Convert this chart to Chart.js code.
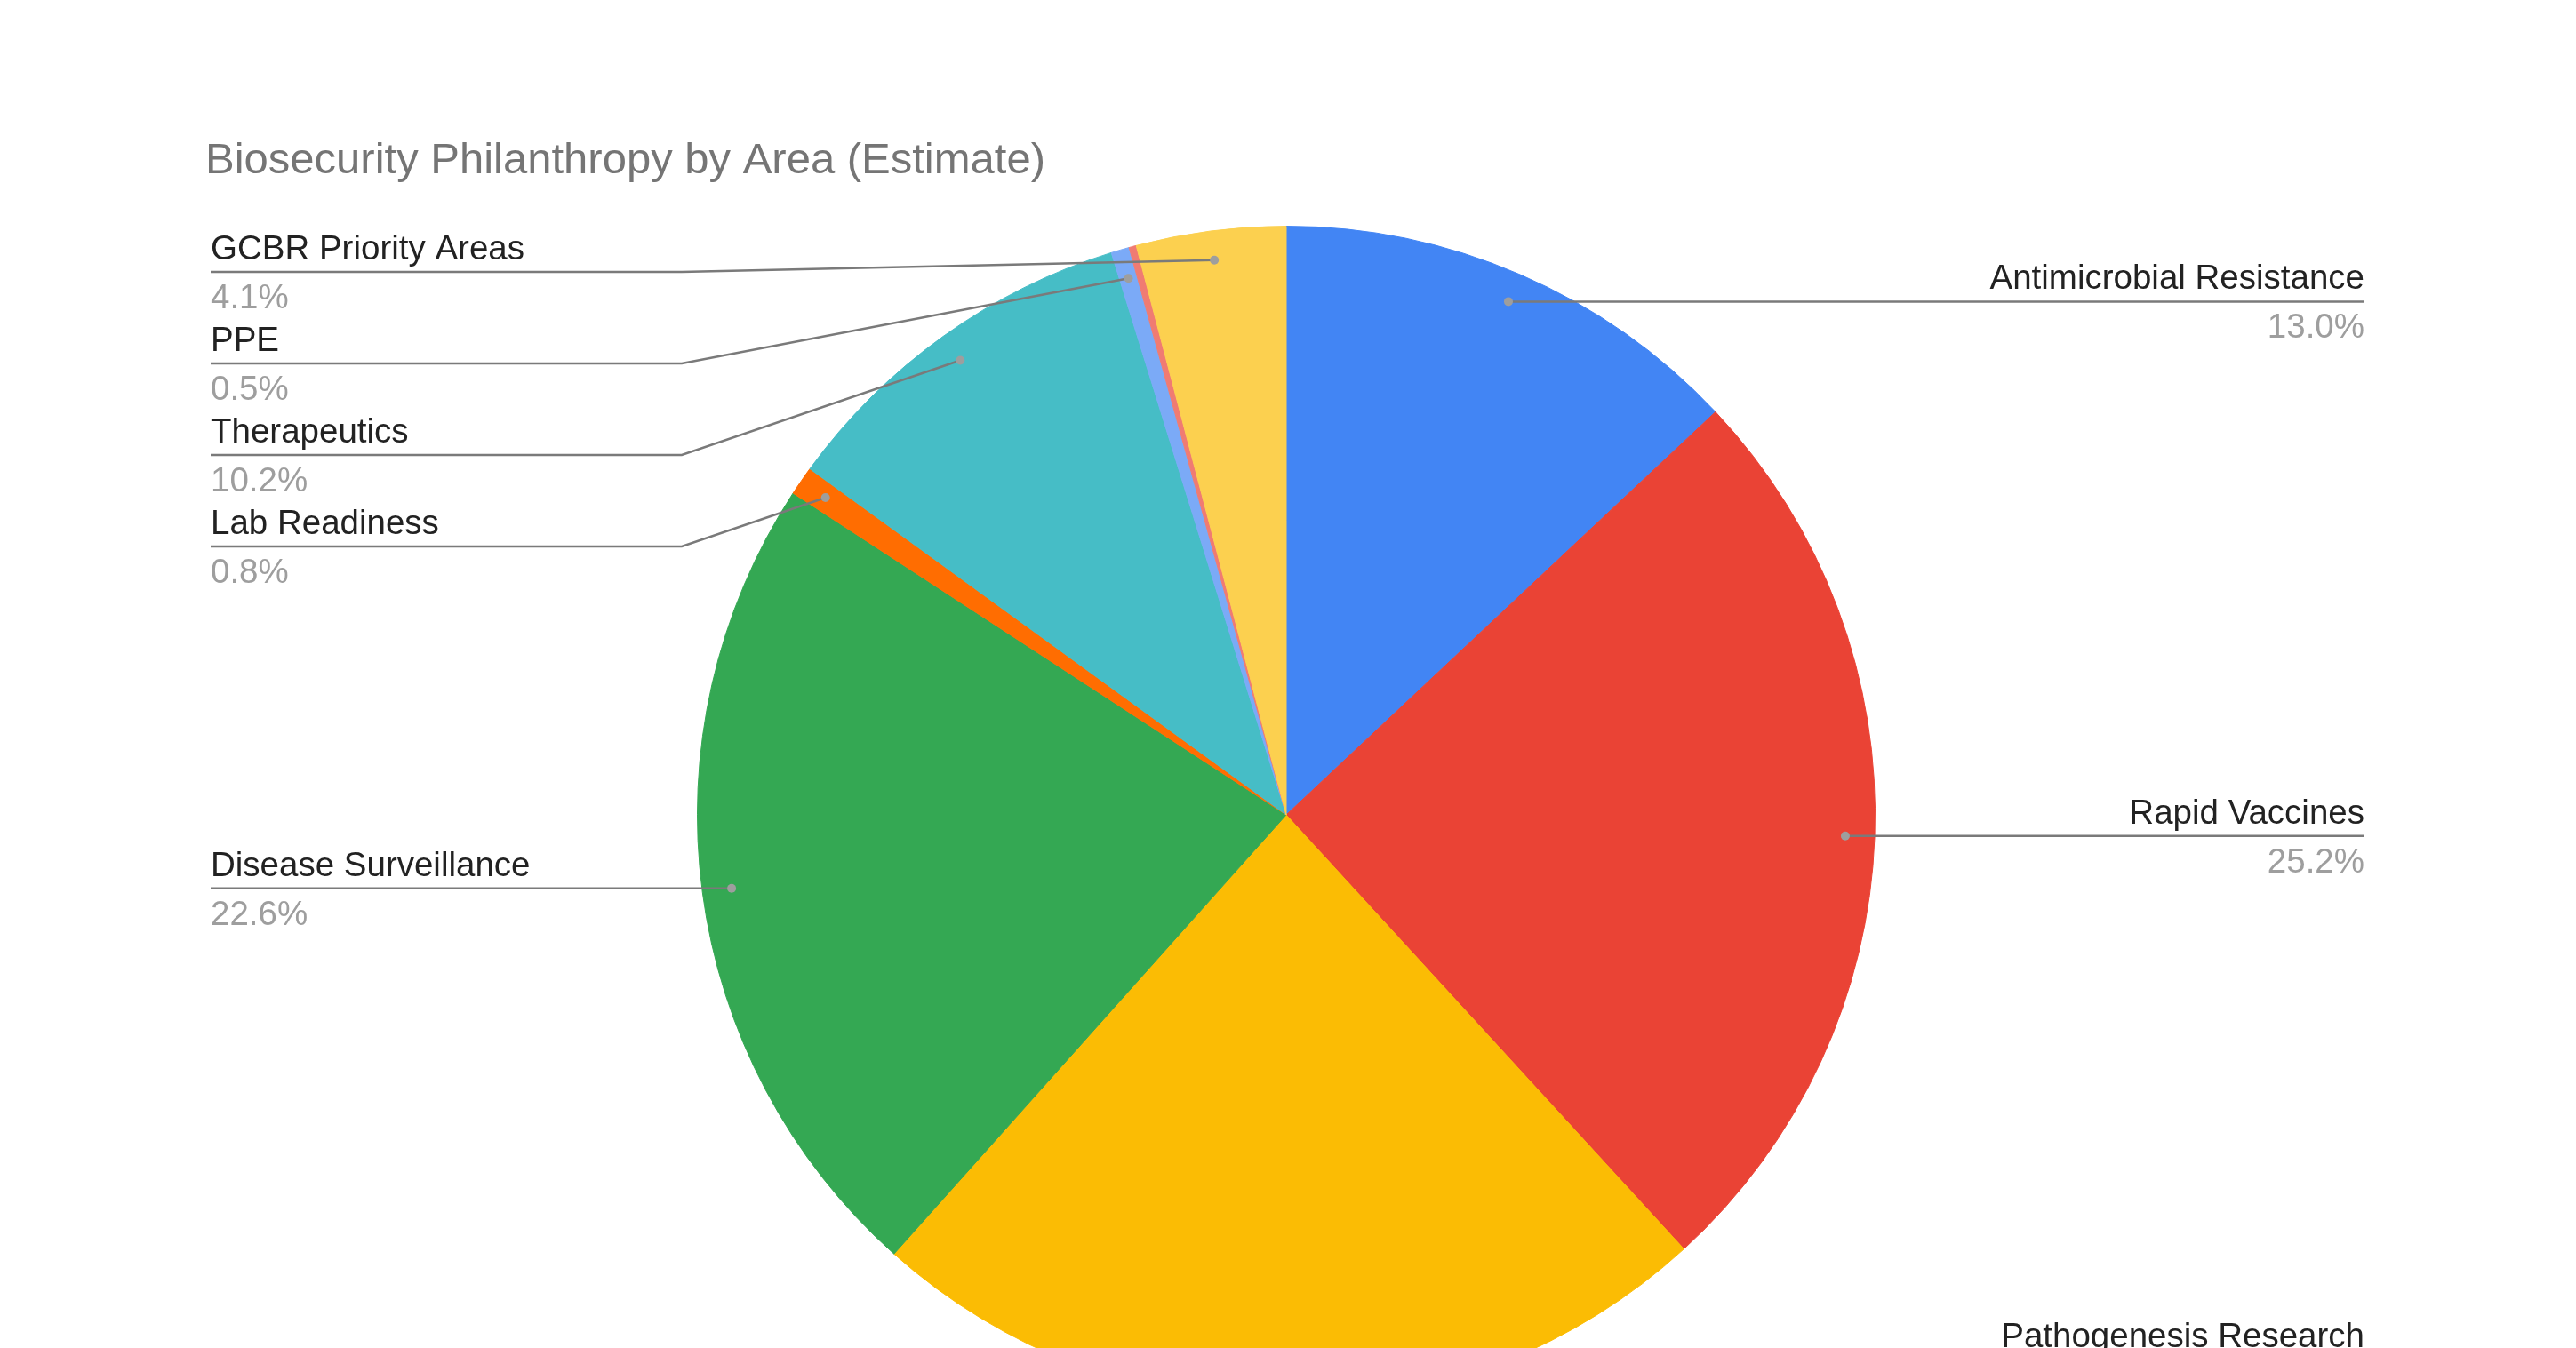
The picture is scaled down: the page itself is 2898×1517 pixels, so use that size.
<!DOCTYPE html>
<html>
<head>
<meta charset="utf-8">
<title>Biosecurity Philanthropy by Area (Estimate)</title>
<script src="https://cdn.jsdelivr.net/npm/chart.js@4.4.1/dist/chart.umd.min.js"></script>
<style>
  html, body { margin: 0; padding: 0; background: #fff; overflow: hidden; }
  #wrap { width: 2898px; height: 1517px; overflow: hidden; }
</style>
</head>
<body>
<div id="wrap"><canvas id="pieChart" width="2898" height="1600"></canvas></div>
<script>
// Slice names, clockwise from 12 o'clock
const areas = [
  "Antimicrobial Resistance",
  "Rapid Vaccines",
  "Pathogenesis Research",
  "Disease Surveillance",
  "Lab Readiness",
  "Therapeutics",
  "PPE",
  "Other",
  "GCBR Priority Areas"
];

// Share of funding (%)
const shares = [13.0, 25.2, 23.4, 22.6, 0.8, 10.2, 0.5, 0.2, 4.1];

// Google Sheets default palette
const sliceColors = [
  "#4285F4", "#EA4335", "#FBBC04", "#34A853", "#FF6D01",
  "#46BDC6", "#7BAAF7", "#F07B72", "#FCD04F"
];

const chartTitle = "Biosecurity Philanthropy by Area (Estimate)";

const FONT = '"Liberation Sans", Arial, sans-serif';

// draws the title plus the leader lines / labels that google puts beside the pie
const calloutPlugin = {
  id: "callouts",
  afterDraw(chart) {
    const ctx = chart.ctx;
    const meta = chart.getDatasetMeta(0);
    const total = shares.reduce((a, b) => a + b, 0);

    ctx.save();
    ctx.font = "49px " + FONT;
    ctx.fillStyle = "#757575";
    ctx.textAlign = "left";
    ctx.textBaseline = "alphabetic";
    ctx.fillText(chartTitle, 231, 195);

    const leftX = 237, rightX = 2660;
    const leftElbow = 767, rightElbow = 2129;
    const gap = 103, minY = 306, maxY = 1530;

    const items = [];
    meta.data.forEach((arc, i) => {
      const pct = shares[i] / total * 100;
      if (pct < 0.5) return; // too thin, no label
      const p = arc.getProps(["x", "y", "startAngle", "endAngle", "outerRadius"], true);
      const mid = (p.startAngle + p.endAngle) / 2;
      const r = p.outerRadius * 0.95;
      items.push({
        i: i,
        pct: pct,
        dx: p.x + Math.cos(mid) * r,
        dy: p.y + Math.sin(mid) * r,
        left: Math.cos(mid) < 0
      });
    });

    [true, false].forEach(side => {
      const group = items.filter(it => it.left === side).sort((a, b) => a.dy - b.dy);
      let prev = -Infinity;
      group.forEach(it => {
        let y = Math.max(it.dy, prev + gap);
        y = Math.min(Math.max(y, minY), maxY);
        it.ly = y;
        prev = y;
      });
    });

    // leader lines
    ctx.strokeStyle = "#7a7a7a";
    ctx.lineWidth = 2.5;
    items.forEach(it => {
      ctx.beginPath();
      if (it.left) {
        ctx.moveTo(leftX, it.ly);
        ctx.lineTo(leftElbow, it.ly);
      } else {
        ctx.moveTo(rightX, it.ly);
        ctx.lineTo(Math.max(rightElbow, it.dx), it.ly);
      }
      ctx.lineTo(it.dx, it.dy);
      ctx.stroke();
    });

    // dots
    ctx.fillStyle = "#9e9e9e";
    items.forEach(it => {
      ctx.beginPath();
      ctx.arc(it.dx, it.dy, 5, 0, Math.PI * 2);
      ctx.fill();
    });

    // label + percentage
    ctx.font = "38.5px " + FONT;
    items.forEach(it => {
      const x = it.left ? leftX : rightX;
      ctx.textAlign = it.left ? "left" : "right";
      ctx.fillStyle = "#222222";
      ctx.fillText(areas[it.i], x, it.ly - 14);
      ctx.fillStyle = "#9e9e9e";
      ctx.fillText(it.pct.toFixed(1) + "%", x, it.ly + 41);
    });
    ctx.restore();
  }
};

const ctx = document.getElementById("pieChart").getContext("2d");
new Chart(ctx, {
  type: "pie",
  data: {
    labels: areas,
    datasets: [{
      data: shares,
      backgroundColor: sliceColors,
      borderColor: sliceColors,
      borderWidth: 1
    }]
  },
  options: {
    responsive: false,
    animation: false,
    devicePixelRatio: 1,
    layout: {
      padding: { top: 254, left: 784, right: 788, bottom: 20 }
    },
    plugins: {
      legend: { display: false },
      tooltip: { enabled: false },
      title: { display: false }
    }
  },
  plugins: [calloutPlugin]
});
</script>
</body>
</html>
